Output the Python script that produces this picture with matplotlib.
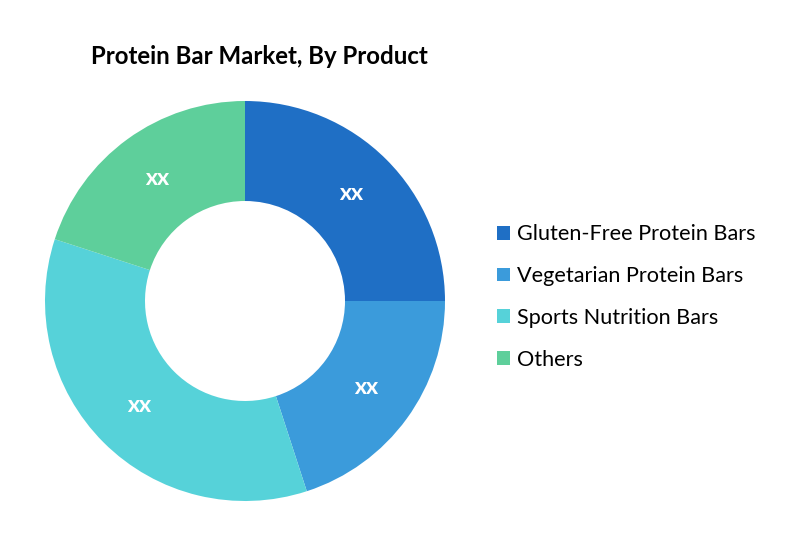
import matplotlib
matplotlib.use("Agg")
import matplotlib.pyplot as plt
from matplotlib.patches import Patch

plt.rcParams['font.family'] = ['Lato', 'DejaVu Sans']

products = ["Gluten-Free Protein Bars", "Vegetarian Protein Bars",
            "Sports Nutrition Bars", "Others"]
shares = [25, 20, 35, 20]
slice_labels = ["XX", "XX", "XX", "XX"]
colors = ['#1f6fc5', '#3b9bdb', '#56d2d9', '#5ecf9b']

fig = plt.figure(figsize=(8, 5.4), dpi=100)
ax = fig.add_axes([45/800, 39/540, 400/800, 400/540])

wedges, texts = ax.pie(shares, colors=colors, startangle=90, counterclock=False,
                       radius=1.0, labels=slice_labels, labeldistance=0.75,
                       wedgeprops=dict(width=0.5, linewidth=0),
                       textprops=dict(color='white', fontweight='heavy', fontsize=12.5))
for t in texts:
    t.set_ha('center')
    t.set_va('center')
ax.set_xlim(-1, 1)
ax.set_ylim(-1, 1)
ax.set_aspect('equal')

fig.text(259/800, 1 - 57/540, "Protein Bar Market, By Product",
         ha='center', va='center', fontsize=17.3, fontweight='bold')

handles = [Patch(facecolor=c, edgecolor='none') for c in colors]
fig.legend(handles, products, loc='center left', bbox_to_anchor=(488/800, 1 - 297/540),
           frameon=False, fontsize=15.6, handlelength=0.6, handleheight=0.6,
           handletextpad=0.35, labelspacing=1.0, borderaxespad=0)

fig.savefig("out.png", dpi=100)
